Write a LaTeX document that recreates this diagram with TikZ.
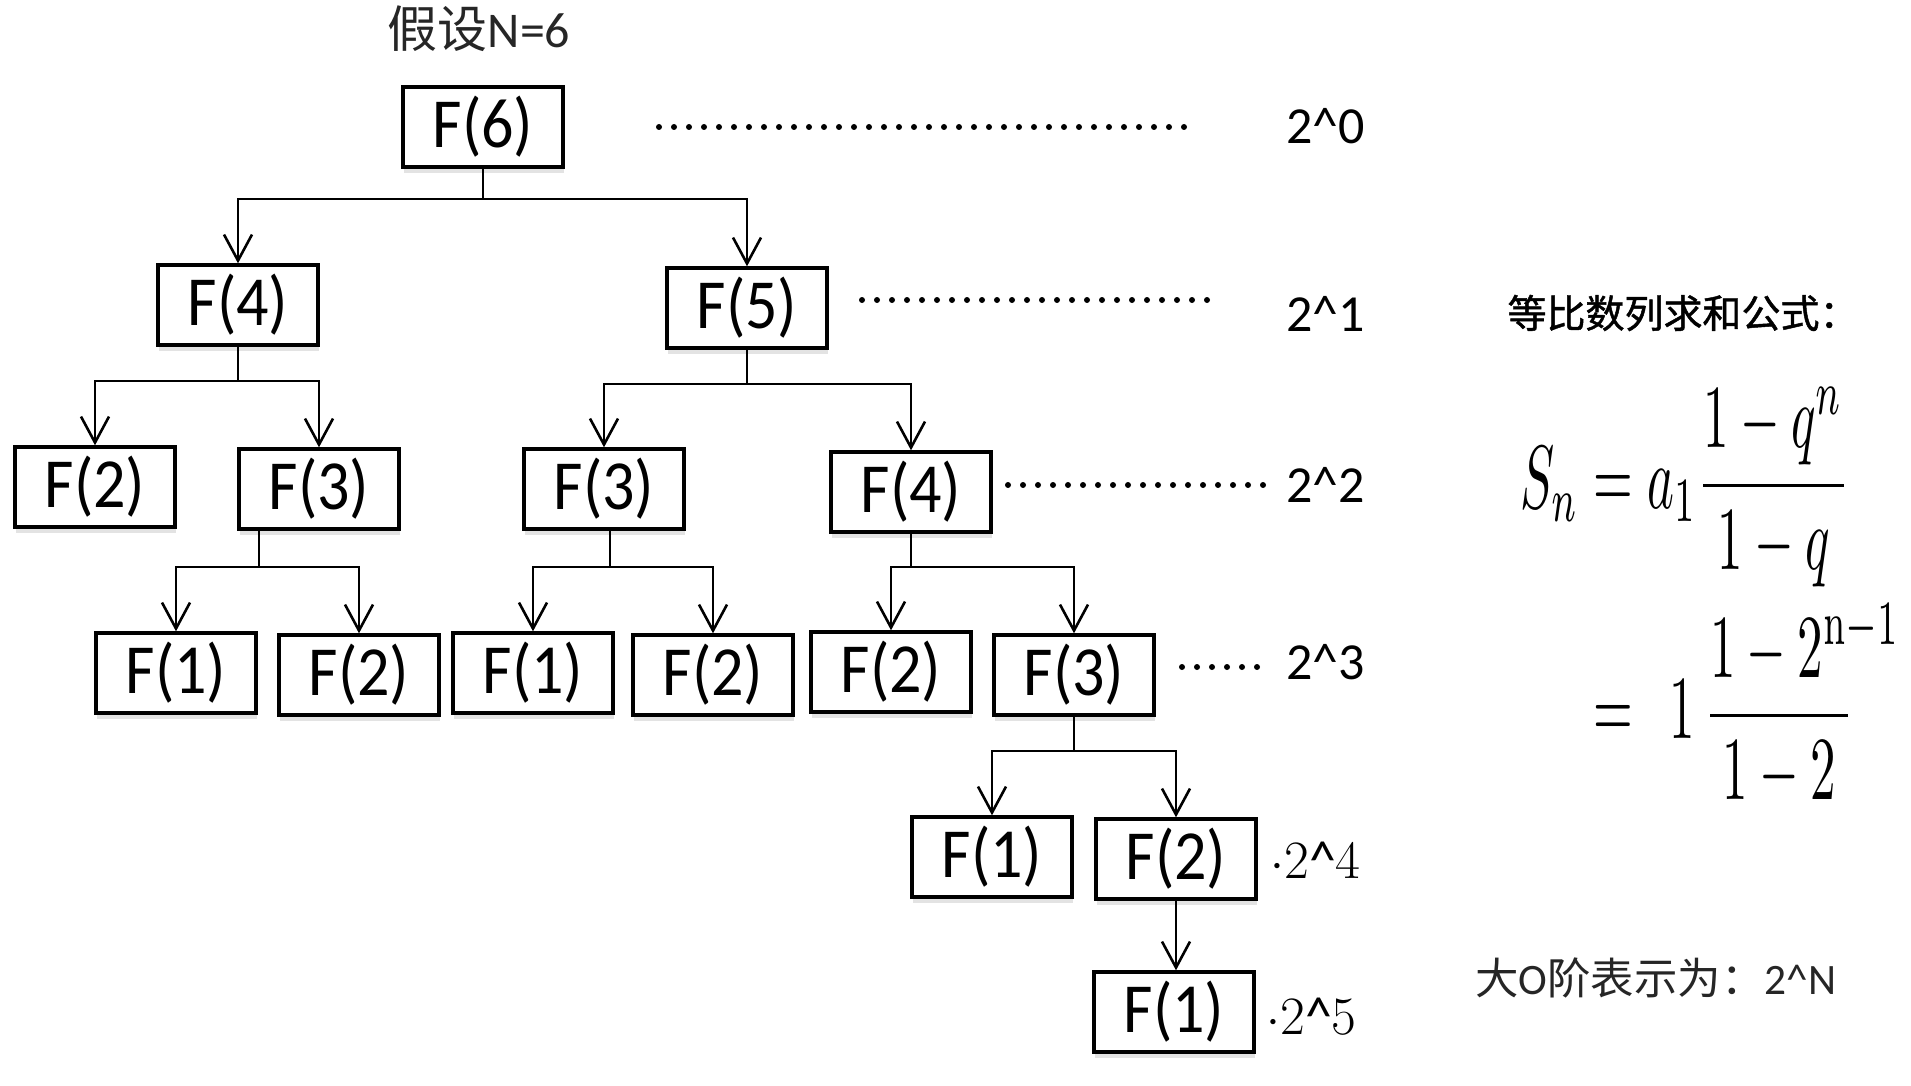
\documentclass[tikz,border=0pt]{standalone}
\usepackage{amsmath}
\usepackage{graphicx}
\usepackage{fontspec}
\setsansfont{Carlito}
\newfontfamily\cjk{Noto Sans CJK SC}
\newfontfamily\cjkb[FakeBold=1.2]{Noto Sans CJK SC}
\usetikzlibrary{arrows.meta,shadows,calc}
\newcommand{\boxtxt}[1]{\scalebox{1}[1.1]{#1}}
\begin{document}
\begin{tikzpicture}[x=0.5pt,y=-0.5pt,
  fbox/.style={draw, line width=1.7pt, minimum width=80pt, minimum height=40pt, inner sep=0pt,
    font=\sffamily\fontsize{32}{32}\selectfont, fill=white,
    drop shadow={shadow xshift=0.5pt, shadow yshift=-3pt, opacity=0.22}},
  conn/.style={line width=1.3pt},
  arr/.style={conn, -{Straight Barb[length=13pt,width=14pt]}},
  leader/.style={line width=3pt, line cap=round, dash pattern=on 0pt off 7.5pt},
  lvl/.style={font=\sffamily\fontsize{26}{26}\selectfont, anchor=west, inner sep=0pt},
  lvls/.style={font=\rmfamily\fontsize{27}{27}\selectfont, anchor=west, inner sep=0pt}]
\useasboundingbox (0,0) rectangle (1911,1086);
\fill[white] (0,0) rectangle (1911,1086);

% title
\node[font=\fontsize{25}{25}\selectfont, text=black!85] (title) at (479,29) {{\cjk 假设}{\sffamily N=6}};

% boxes
\node[fbox] (f6)  at (483,127) {\boxtxt{F(6)}};
\node[fbox] (f4a) at (238,305) {\boxtxt{F(4)}};
\node[fbox] (f5)  at (747,308) {\boxtxt{F(5)}};
\node[fbox] (f2a) at (95,487)  {\boxtxt{F(2)}};
\node[fbox] (f3a) at (319,489) {\boxtxt{F(3)}};
\node[fbox] (f3b) at (604,489) {\boxtxt{F(3)}};
\node[fbox] (f4b) at (911,492) {\boxtxt{F(4)}};
\node[fbox] (f1a) at (176,673) {\boxtxt{F(1)}};
\node[fbox] (f2b) at (359,675) {\boxtxt{F(2)}};
\node[fbox] (f1b) at (533,673) {\boxtxt{F(1)}};
\node[fbox] (f2c) at (713,675) {\boxtxt{F(2)}};
\node[fbox] (f2d) at (891,672) {\boxtxt{F(2)}};
\node[fbox] (f3c) at (1074,675) {\boxtxt{F(3)}};
\node[fbox] (f1c) at (992,857) {\boxtxt{F(1)}};
\node[fbox] (f2e) at (1176,859) {\boxtxt{F(2)}};
\node[fbox] (f1d) at (1174,1012) {\boxtxt{F(1)}};

% bar levels
\coordinate (y1) at (0,199);
\coordinate (y2a) at (0,381);
\coordinate (y2b) at (0,384);
\coordinate (y3) at (0,567);
\coordinate (y4) at (0,751);
\coordinate (s3a) at ($(f3a.south west)!0.133!(f3a.south east)$);
\coordinate (s3b) at ([xshift=3pt]f3b.south);

% connectors
\draw[arr] (f6.south) |- (f4a.north |- y1) -- (f4a.north);
\draw[arr] (f6.south) |- (f5.north |- y1) -- (f5.north);
\draw[arr] (f4a.south) |- (f2a.north |- y2a) -- (f2a.north);
\draw[arr] (f4a.south) |- (f3a.north |- y2a) -- (f3a.north);
\draw[arr] (f5.south) |- (f3b.north |- y2b) -- (f3b.north);
\draw[arr] (f5.south) |- (f4b.north |- y2b) -- (f4b.north);
\draw[arr] (s3a) |- (f1a.north |- y3) -- (f1a.north);
\draw[arr] (s3a) |- (f2b.north |- y3) -- (f2b.north);
\draw[arr] (s3b) |- (f1b.north |- y3) -- (f1b.north);
\draw[arr] (s3b) |- (f2c.north |- y3) -- (f2c.north);
\draw[arr] (f4b.south) |- (f2d.north |- y3) -- (f2d.north);
\draw[arr] (f4b.south) |- (f3c.north |- y3) -- (f3c.north);
\draw[arr] (f3c.south) |- (f1c.north |- y4) -- (f1c.north);
\draw[arr] (f3c.south) |- (f2e.north |- y4) -- (f2e.north);
\draw[arr] (f2e.south) -- (f2e.south |- f1d.north);

% level labels
\node[lvl] (l0) at (1286,126) {2\textasciicircum0};
\node[lvl] (l1) at (1286,314) {2\textasciicircum1};
\node[lvl] (l2) at (1286,485) {2\textasciicircum2};
\node[lvl] (l3) at (1286,662) {2\textasciicircum3};
\node[lvls] (l4) at (1270,860) {$\cdot$2{\sffamily\textasciicircum}4};
\node[lvls] (l5) at (1266,1017) {$\cdot$2{\sffamily\textasciicircum}5};

% leaders
\coordinate (d0a) at (659,127);  \coordinate (d0b) at (1186,127);
\coordinate (d1a) at (862,300);  \coordinate (d1b) at (1213,300);
\coordinate (d2a) at (1008,485); \coordinate (d2b) at (1268,485);
\coordinate (d3a) at (1182,667); \coordinate (d3b) at (1260,667);
\draw[leader] (d0a) -- (d0b);
\draw[leader] (d1a) -- (d1b);
\draw[leader] (d2a) -- (d2b);
\draw[leader] (d3a) -- (d3b);

% formula
\node[font=\fontsize{19.5}{19.5}\selectfont] (ftitle) at (1683,313) {\cjkb 等比数列求和公式：};
\node[anchor=base west, inner sep=0pt] (m1) at (1520,508)
  {\scalebox{2.55}[4.5]{$\displaystyle S_n = a_1\frac{1-q^n}{1-q}$}};
\node[anchor=base west, inner sep=0pt] (m2) at (1593,738)
  {\scalebox{2.55}[4.5]{$\displaystyle =\;\,1\,\frac{1-2^{\mathrm{n}\rlap{$\scriptstyle-1$}}}{1-2}$}};

\node[anchor=west, inner sep=0pt, font=\fontsize{21.7}{21.7}\selectfont, text=black!85] (bigo) at (1475,978)
  {{\cjk 大}{\sffamily O}{\cjk 阶表示为：}{\sffamily 2\textasciicircum N}};
\end{tikzpicture}
\end{document}
